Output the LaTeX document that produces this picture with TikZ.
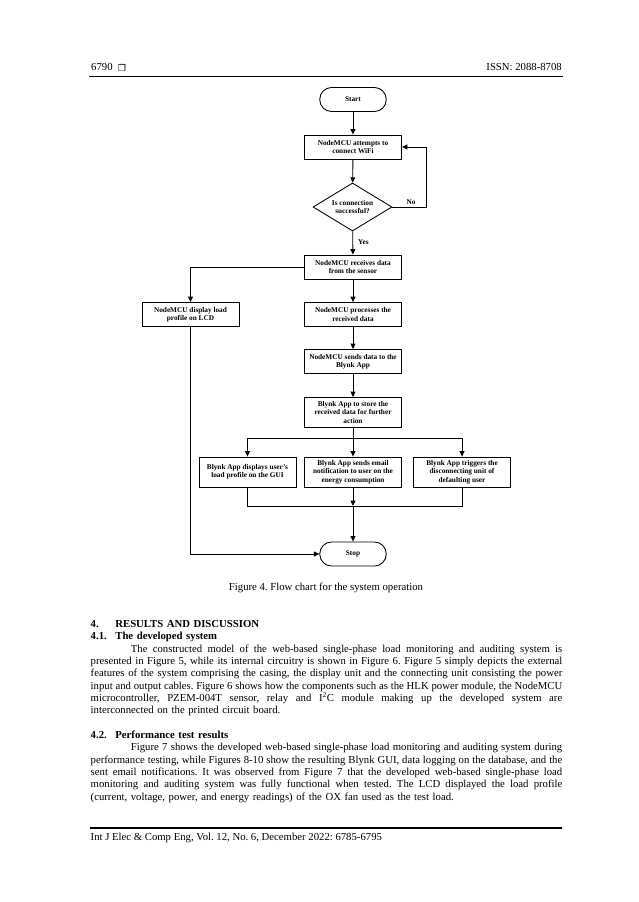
\documentclass[tikz,border=0pt]{standalone}
\usepackage{fontspec}
\setmainfont{Liberation Serif}
\newfontfamily\dejavu{DejaVu Sans}
\usetikzlibrary{shapes.geometric,arrows.meta}
\newcommand\jline[1]{\leavevmode\hbox to 440pt{\spaceskip=0.25em plus 0.8em minus 0.1em\relax #1}}
\newcommand\bodyfont{\fontsize{10}{11.5}\selectfont\frenchspacing}
\begin{document}
\begin{tikzpicture}[x=0.933pt,y=-0.933pt,
  flow/.style={font=\fontsize{6.8}{7.8}\selectfont\bfseries,align=center},
  pbox/.style={flow,draw,line width=0.8pt,rectangle,minimum width=90.5pt,minimum height=22.4pt,inner sep=1pt},
  tallbox/.style={pbox,minimum height=28pt},
  term/.style={flow,draw,line width=0.8pt,rectangle,rounded corners=11pt,minimum width=62pt,minimum height=22.4pt,inner sep=1pt},
  decide/.style={flow,draw,line width=0.8pt,diamond,aspect=1.65,minimum width=73.7pt,minimum height=44.8pt,inner sep=0pt},
  ln/.style={draw,line width=0.8pt},
  arr/.style={draw,line width=0.8pt,-{Triangle[length=5pt,width=4.5pt]}},
  lbl/.style={flow,inner sep=0pt},
  body/.style={inner sep=0pt,font=\bodyfont},
  rule/.style={line width=0.9pt}
]
\useasboundingbox (0,0) rectangle (638,902);
\fill[white] (0,0) rectangle (638,902);

% header
\node[body,anchor=base west] (pgno) at (91,71) {6790};
\node[inner sep=0pt,font=\dejavu\fontsize{8.5}{9}\selectfont] (sq) at (122,67.5) {❒};
\node[body,anchor=base east] (issn) at (562,71) {ISSN: 2088-8708};
\draw[rule] (89,76) -- (563,76);

% flowchart
\node[term] (start) at (353,99.5) {Start};
\node[pbox] (b1) at (353,147) {NodeMCU attempts to\\connect WiFi};
\node[decide] (dia) at (352.5,207) {Is connection\\successful?};
\node[pbox] (b2) at (353,267) {NodeMCU receives data\\from the sensor};
\node[pbox] (lcd) at (190.5,314.5) {NodeMCU display load\\profile on LCD};
\node[pbox] (b3) at (353,314.5) {NodeMCU processes the\\received data};
\node[pbox] (b4) at (353,361.5) {NodeMCU sends data to the\\Blynk App};
\node[tallbox] (b5) at (353,412.5) {Blynk App to store the\\received data for further\\action};
\node[tallbox] (g1) at (247.5,472) {Blynk App displays user’s\\load profile on the GUI};
\node[tallbox] (g2) at (353,472) {Blynk App sends email\\notification to user on the\\energy consumption};
\node[tallbox] (g3) at (462,472) {Blynk App triggers the\\disconnecting unit of\\defaulting user};
\node[term] (stop) at (353,554) {Stop};

\node[lbl] (no) at (411,202) {No};
\node[lbl] (yes) at (363.5,242) {Yes};

\coordinate (loop) at (426,147);
\coordinate (spl) at (353,438);
\coordinate (jn) at (353,506);

\draw[arr] (start) -- (b1);
\draw[arr] (b1) -- (dia);
\draw[arr] (dia.east) -| (loop) -- (b1.east);
\draw[arr] (dia) -- (b2);
\draw[arr] (b2.west) -| (lcd.north);
\draw[arr] (b2) -- (b3);
\draw[arr] (b3) -- (b4);
\draw[arr] (b4) -- (b5);
\draw[arr] (b5) -- (g2);
\draw[ln] (spl -| g1) -- (spl -| g3);
\draw[arr] (spl -| g1) -- (g1);
\draw[arr] (spl -| g3) -- (g3);
\draw[ln] (g1.south) -- (g1.south |- jn) -- (g3.south |- jn) -- (g3.south);
\draw[arr] (g2) -- (jn);
\draw[arr] (jn) -- (stop);
\draw[arr] (lcd.south) |- (stop.west);

% caption
\node[body,anchor=base] (cap) at (326,590) {Figure 4. Flow chart for the system operation};

% section 4 and 4.1
\node[body,anchor=base west,text width=440pt] (sec41) at (90.5,627.5) {%
\textbf{\makebox[23pt][l]{4.}RESULTS AND DISCUSSION}\\
\textbf{\makebox[23pt][l]{4.1.}The developed system}\\
\jline{\hspace*{37.5pt}The constructed model of the web-based single-phase load monitoring and auditing system is}\\
\jline{presented in Figure 5, while its internal circuitry is shown in Figure 6. Figure 5 simply depicts the external}\\
\jline{features of the system comprising the casing, the display unit and the connecting unit consisting the power}\\
\jline{input and output cables. Figure 6 shows how the components such as the HLK power module, the NodeMCU}\\
\jline{microcontroller, PZEM-004T sensor, relay and I\textsuperscript{2}C module making up the developed system are}\\
interconnected on the printed circuit board.};

% section 4.2
\node[body,anchor=base west,text width=440pt] (sec42) at (90.5,738.5) {%
\textbf{\makebox[23pt][l]{4.2.}Performance test results}\\
\jline{\hspace*{37.5pt}Figure 7 shows the developed web-based single-phase load monitoring and auditing system during}\\
\jline{performance testing, while Figures 8-10 show the resulting Blynk GUI, data logging on the database, and the}\\
\jline{sent email notifications. It was observed from Figure 7 that the developed web-based single-phase load}\\
\jline{monitoring and auditing system was fully functional when tested. The LCD displayed the load profile}\\
(current, voltage, power, and energy readings) of the OX fan used as the test load.};

% footer
\draw[line width=1.1pt] (90,828) -- (562,828);
\node[body,anchor=base west] (foot) at (90.5,840) {Int J Elec \& Comp Eng, Vol. 12, No. 6, December 2022: 6785-6795};
\end{tikzpicture}
\end{document}
